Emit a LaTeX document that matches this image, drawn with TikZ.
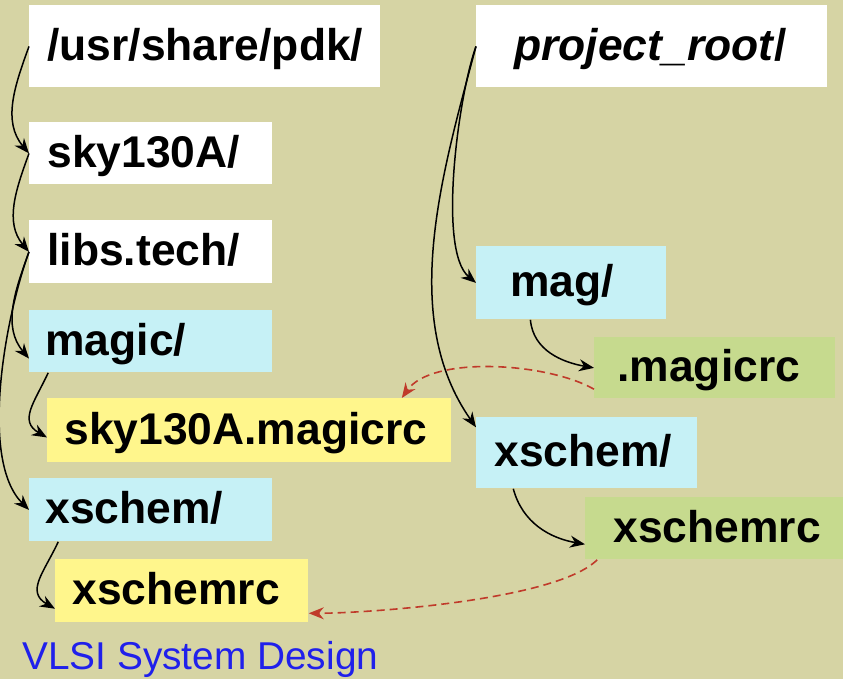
\documentclass[tikz,border=0pt]{standalone}
\usepackage{fontspec}
\setmainfont{Liberation Sans}
\usetikzlibrary{arrows.meta}
\definecolor{pagebg}{RGB}{214,212,164}
\definecolor{dircyan}{RGB}{198,241,246}
\definecolor{rcyellow}{RGB}{255,246,140}
\definecolor{rcgreen}{RGB}{198,218,142}
\definecolor{linkred}{RGB}{192,58,42}
\definecolor{credblue}{RGB}{32,32,235}

\begin{document}
\begin{tikzpicture}[x=0.5pt,y=-0.5pt,
box/.style n args={3}{anchor=north west,inner ysep=0pt,minimum width=#1pt,minimum height=#2pt,inner xsep=#3pt,text width=#1pt-2*#3pt,align=left,font=\fontsize{22.2}{26}\selectfont\bfseries,text height=18pt,text depth=4pt},
top/.style={fill=white},
dir/.style={fill=dircyan},
sysrc/.style={fill=rcyellow},
projrc/.style={fill=rcgreen},
tree/.style={-{Stealth[length=7.5pt,width=6pt]},line width=0.75pt},
link/.style={-{Stealth[length=7.5pt,width=6pt]},line width=0.8pt,linkred,dash pattern=on 4pt off 2.5pt},
credit/.style={anchor=base west,inner sep=0pt,text=credblue,font=\fontsize{19.4}{23}\selectfont}
]
\useasboundingbox (0,0) rectangle (843,679);
\fill[pagebg] (0,0) rectangle (843,679);
\node[top,box={175.5}{41}{9}] (usr) at (29,5) {/usr/share/pdk/};
\node[top,box={121.5}{31}{9}] (sky) at (29,122) {sky130A/};
\node[top,box={121.5}{31.5}{9}] (libs) at (29,220) {libs.tech/};
\node[dir,box={121.5}{31}{8}] (magic) at (29,310) {magic/};
\node[sysrc,box={202}{32}{8.5}] (skymrc) at (47,398) {sky130A.magicrc};
\node[dir,box={121.5}{31.5}{8}] (xschL) at (29,478) {xschem/};
\node[sysrc,box={126.5}{31.5}{8.5}] (xrcL) at (55,559) {xschemrc};
\node[top,box={175.5}{41}{19}] (proj) at (476,5) {\textit{project\_root}/};
\node[dir,box={95}{36.5}{17}] (mag) at (476,246) {mag/};
\node[projrc,box={120.5}{30.5}{11.5}] (mrc) at (594,337) {.magicrc};
\node[dir,box={110.5}{35.5}{9}] (xschR) at (476,417) {xschem/};
\node[projrc,box={129}{31}{14}] (xrcR) at (585,497) {xschemrc};
\node[credit] (vsd) at (22,670) {VLSI System Design};
\draw[tree] (usr.west) to[out=250,in=130] (sky.west);
\draw[tree] (sky.west) to[out=250,in=130] (libs.west);
\draw[tree] (libs.west) to[out=250,in=130] (magic.188);
\draw[tree] (libs.west) to[out=250,in=135,looseness=0.7] (xschL.west);
\draw[tree] (magic.197) to[out=245,in=150,looseness=1.3] (skymrc.182);
\draw[tree] (xschL.199) to[out=245,in=150,looseness=1.3] (xrcL.188);
\draw[tree] (proj.west) to[out=250,in=140,looseness=0.55] (mag.west);
\draw[tree] (proj.west) to[out=255,in=125,looseness=0.9] (xschR.167);
\draw[tree] (mag.222) to[out=275,in=170] (mrc.west);
\draw[tree] (xschR.206) to[out=285,in=170] (xrcR.187);
\draw[link] (mrc.190) to[out=150,in=55,looseness=0.7] (skymrc.12);
\draw[link] (xrcR.195) to[out=225,in=0,looseness=0.5] (xrcL.350);
\end{tikzpicture}
\end{document}
